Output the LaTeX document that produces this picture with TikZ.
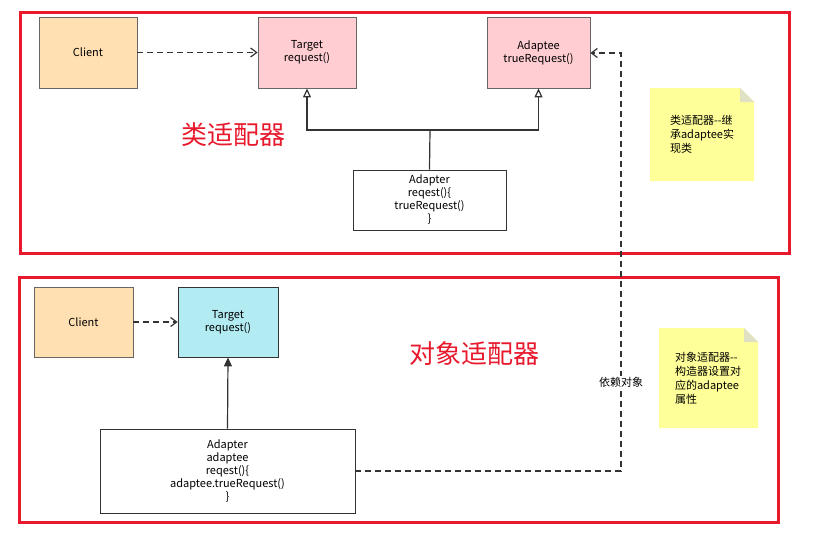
\documentclass[tikz,border=0pt]{standalone}
\usepackage{fontspec}
\setmainfont{Noto Sans CJK SC}
\usetikzlibrary{arrows.meta}
\definecolor{frame}{HTML}{E8192C}
\definecolor{orangef}{HTML}{FFE0B2}
\definecolor{pinkf}{HTML}{FFCDD2}
\definecolor{cyanf}{HTML}{B2EBF2}
\definecolor{notef}{HTML}{FFFF99}
\tikzset{
 box/.style={draw=black!80,line width=0.8pt,font=\fontsize{11}{13}\selectfont,align=center,inner sep=0pt},
 dashline/.style={draw=black!80,line width=1.2pt,dash pattern=on 6pt off 4pt},
 note/.style={font=\fontsize{11}{14}\selectfont,align=left,inner sep=0pt},
 big/.style={text=frame,font=\fontsize{26}{30}\selectfont},
 fr/.style={draw=frame,line width=3pt}
}
\begin{document}
\begin{tikzpicture}[x=1pt,y=-1pt]
\useasboundingbox (0,0) rectangle (823,533);
\draw[fr] (20,12) rectangle (789,253);
\draw[fr] (19,277) rectangle (778,522);
% class adapter
\node[box,fill=orangef,draw=black!60,minimum width=98pt,minimum height=71pt] (c1) at (88,52.5) {Client};
\node[box,fill=pinkf,draw=black!60,minimum width=98pt,minimum height=71pt] (t1) at (307,52.5) {Target\\request()};
\node[box,fill=pinkf,draw=black!60,minimum width=103pt,minimum height=71pt] (ae) at (538.5,52.5) {Adaptee\\trueRequest()};
\node[box,fill=white,minimum width=153pt,minimum height=60pt] (a1) at (429.5,200) {Adapter\\reqest()\{\\trueRequest()\\\}};
\node[big] (l1) at (233,135) {类适配器};
\fill[notef] (650,88) -- (740,88) -- (754,102) -- (754,181) -- (650,181) -- cycle;
\fill[notef!70!black!40] (740,88) -- (754,102) -- (740,102) -- cycle;
\node[note] (n1) at (702,134) {类适配器-{}-继\\承adaptee实\\现类};
\draw[dashline,-{Straight Barb[length=6pt,width=9pt]}] (c1.east) -- (t1.west);
\coordinate (j1) at (430,130);
\draw[black!80,line width=1.2pt] (a1.north) -- (j1);
\draw[black!80,line width=1.2pt,-{Triangle[open,length=9pt,width=8pt]}] (j1) -| (t1.south);
\draw[black!80,line width=1.2pt,-{Triangle[open,length=9pt,width=8pt]}] (j1) -| (ae.south);
% object adapter
\node[box,fill=orangef,draw=black!60,minimum width=99pt,minimum height=70pt] (c2) at (83.5,322) {Client};
\node[box,fill=cyanf,minimum width=100pt,minimum height=70pt] (t2) at (228,322) {Target\\request()};
\node[box,fill=white,minimum width=255pt,minimum height=84pt] (a2) at (227.5,471) {Adapter\\adaptee\\reqest()\{\\adaptee.trueRequest()\\\}};
\node[big] (l2) at (474,354) {对象适配器};
\fill[notef] (659,328) -- (744,328) -- (758,342) -- (758,428) -- (659,428) -- cycle;
\fill[notef!70!black!40] (744,328) -- (758,342) -- (744,342) -- cycle;
\node[note] (n2) at (708,378) {对象适配器-{}-\\构造器设置对\\应的adaptee\\属性};
\draw[dashline,-{Straight Barb[length=6pt,width=9pt]}] (c2.east) -- (t2.west);
\draw[black!80,line width=1.2pt,-{Triangle[length=9pt,width=8pt]}] (a2.north) -- (t2.south);
\coordinate (k1) at (621,471);
\coordinate (k2) at (621,53);
\draw[dashline,-{Straight Barb[length=6pt,width=9pt]}] (a2.east |- k1) -- (k1) -- (k2) -- (ae.east |- k2);
\node[fill=white,font=\fontsize{11}{13}\selectfont,inner sep=1pt] (dl) at (621,382) {依赖对象};
\end{tikzpicture}
\end{document}
